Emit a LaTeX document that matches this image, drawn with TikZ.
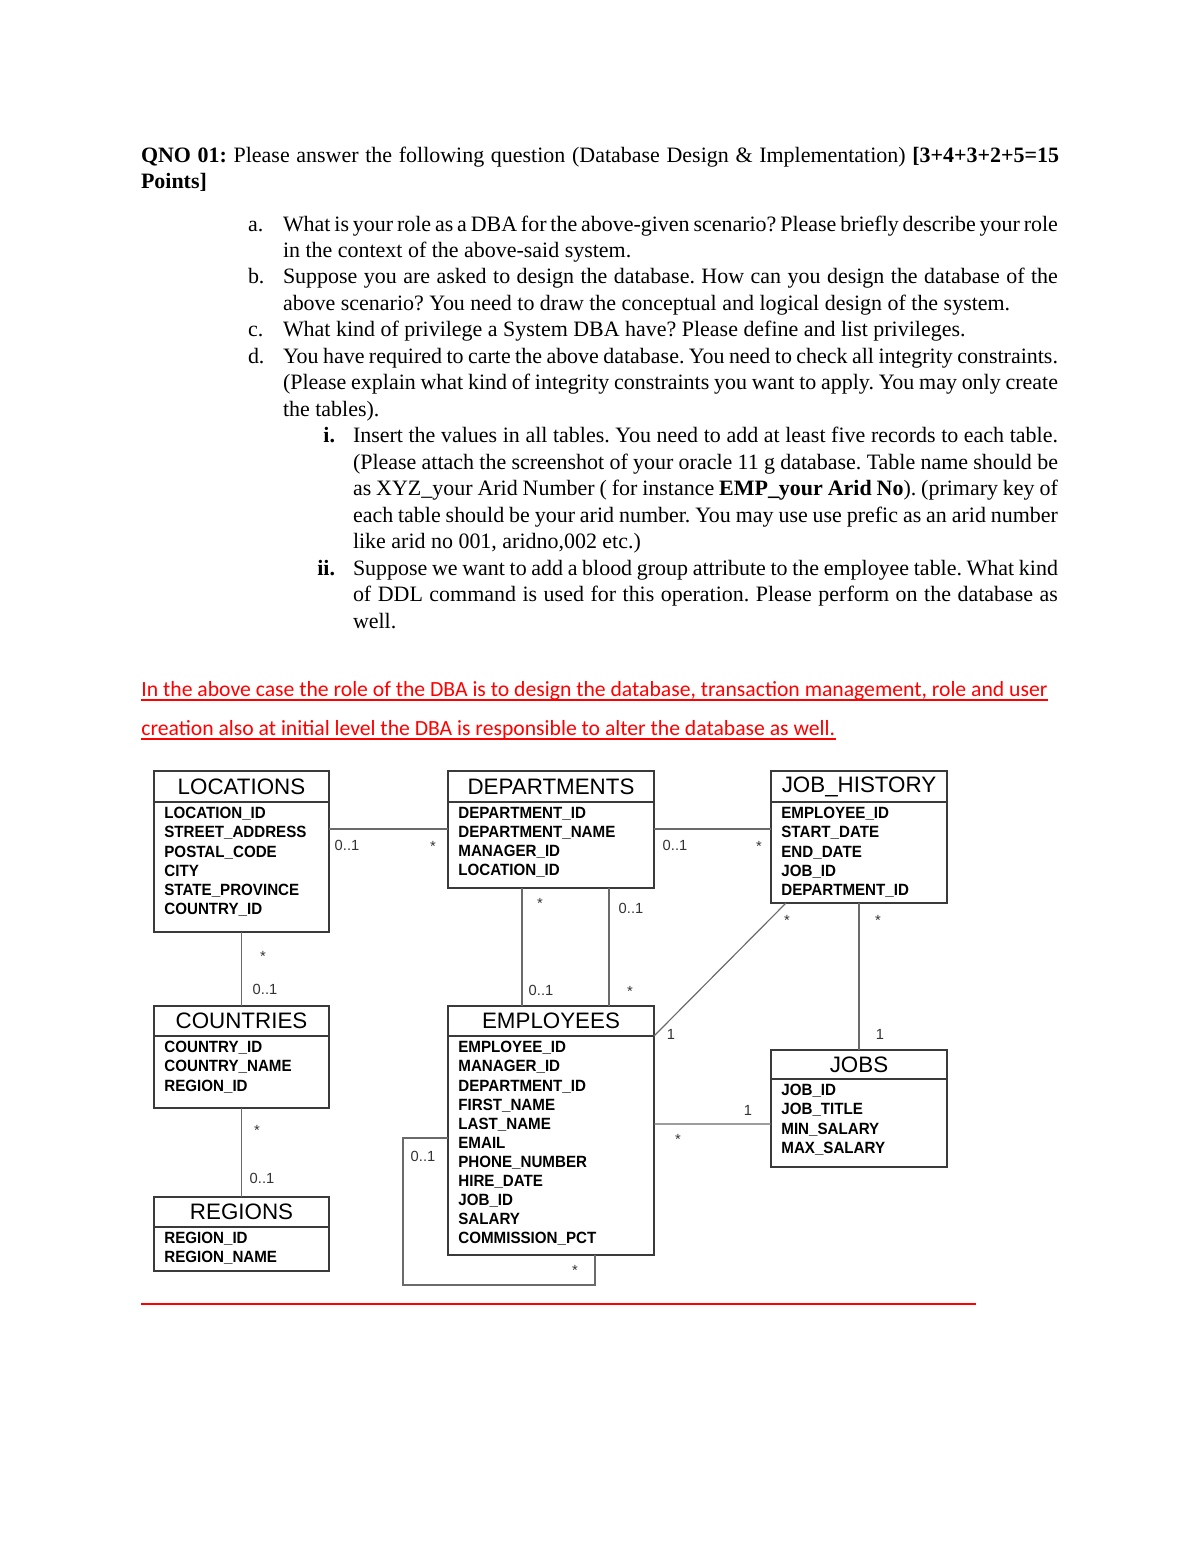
\documentclass[tikz,border=0pt]{standalone}
\usepackage{fontspec}
\setmainfont{Liberation Serif}
\setsansfont{Liberation Sans}
\newfontfamily\calib{Carlito}
\newfontfamily\erfont[FakeStretch=0.93]{Liberation Sans}
\usetikzlibrary{positioning}
\frenchspacing

\definecolor{ansred}{HTML}{FF0000}
\definecolor{erline}{HTML}{3A3A3A}
\definecolor{relgray}{HTML}{6A6A6A}

\def\pxu{0.51pt}     % one pixel of the page
\def\itemw{395.2pt}  % width of an item line
\def\subw{359.5pt}   % width of a sub-item line
\def\headw{468.2pt}  % full text width

\begin{document}
\begin{tikzpicture}[
  x=0.51pt, y=-0.51pt,
  qline/.style={font=\fontsize{11.2}{13.5}\selectfont, inner sep=0pt, outer sep=0pt, text height=9.45pt, text depth=4.05pt, anchor=north west},
  ans/.style={font=\calib\fontsize{11.05}{14}\selectfont, text=ansred, inner sep=0pt, anchor=base west},
  uline/.style={draw=ansred, line width=0.9pt},
  tname/.style={draw=erline, line width=0.7pt, font=\sffamily\fontsize{11.4}{12}\selectfont, inner sep=0pt, outer sep=0pt},
  tbody/.style={draw=erline, line width=0.7pt, inner sep=0pt, outer sep=0pt},
  attr/.style={font={\erfont\fontsize{8.3}{9.75}\selectfont\bfseries}, align=left, inner sep=0pt, anchor=north west},
  mult/.style={font=\sffamily\fontsize{7.5}{9}\selectfont, text=black!80, inner sep=0pt, anchor=base},
  rel/.style={draw=relgray, line width=0.6pt},
]
\useasboundingbox (0,0) rectangle (1200,1553);

%% ============ question ============
\node[qline] (h1) at (141,144) {\makebox[\headw][s]{\textbf{QNO 01:} Please answer the following question (Database Design \& Implementation) \textbf{[3+4+3+2+5=15}}};
\node[qline, below=0pt of h1.south west, anchor=north west] (h2) {\textbf{Points]}};

\node[qline] (a1) at (283,212.5) {\makebox[\itemw][s]{What is your role as a DBA for the above-given scenario? Please briefly describe your role}};
\node[qline, below=0pt of a1.south west, anchor=north west] (a2) {in the context of the above-said system.};
\node[qline, below=0pt of a2.south west, anchor=north west] (b1) {\makebox[\itemw][s]{Suppose you are asked to design the database. How can you design the database of the}};
\node[qline, below=0pt of b1.south west, anchor=north west] (b2) {above scenario? You need to draw the conceptual and logical design of the system.};
\node[qline, below=0pt of b2.south west, anchor=north west] (c1) {What kind of privilege a System DBA have? Please define and list privileges.};
\node[qline, below=0pt of c1.south west, anchor=north west] (d1) {\makebox[\itemw][s]{You have required to carte the above database. You need to check all integrity constraints.}};
\node[qline, below=0pt of d1.south west, anchor=north west] (d2) {\makebox[\itemw][s]{(Please explain what kind of integrity constraints you want to apply. You may only create}};
\node[qline, below=0pt of d2.south west, anchor=north west] (d3) {the tables).};

\node[qline] (la) at ([xshift=-35*\pxu]a1.north west) {a.};
\node[qline] (lb) at ([xshift=-35*\pxu]b1.north west) {b.};
\node[qline] (lc) at ([xshift=-35*\pxu]c1.north west) {c.};
\node[qline] (ld) at ([xshift=-35*\pxu]d1.north west) {d.};

%% sub items
\node[qline] (i1) at ([xshift=70*\pxu]d3.south west) {\makebox[\subw][s]{Insert the values in all tables. You need to add at least five records to each table.}};
\node[qline, below=0pt of i1.south west, anchor=north west] (i2) {\makebox[\subw][s]{(Please attach the screenshot of your oracle 11 g database. Table name should be}};
\node[qline, below=0pt of i2.south west, anchor=north west] (i3) {\makebox[\subw][s]{as XYZ\_your Arid Number ( for instance \textbf{EMP\_your Arid No}). (primary key of}};
\node[qline, below=0pt of i3.south west, anchor=north west] (i4) {\makebox[\subw][s]{each table should be your arid number. You may use use prefic as an arid number}};
\node[qline, below=0pt of i4.south west, anchor=north west] (i5) {like arid no 001, aridno,002 etc.)};
\node[qline, below=0pt of i5.south west, anchor=north west] (j1) {\makebox[\subw][s]{Suppose we want to add a blood group attribute to the employee table. What kind}};
\node[qline, below=0pt of j1.south west, anchor=north west] (j2) {\makebox[\subw][s]{of DDL command is used for this operation. Please perform on the database as}};
\node[qline, below=0pt of j2.south west, anchor=north west] (j3) {well.};

\node[qline, anchor=north east] (li) at ([xshift=-18*\pxu]i1.north west) {\textbf{i.}};
\node[qline, anchor=north east] (lii) at ([xshift=-18*\pxu]j1.north west) {\textbf{ii.}};

%% ============ answer ============
\node[ans] (r1) at (141,696) {In the above case the role of the DBA is to design the database, transaction management, role and user};
\node[ans] (r2) at (141,735) {creation also at initial level the DBA is responsible to alter the database as well.};
\draw[uline] ([yshift=-2.2pt]r1.base west) -- ([yshift=-2.2pt]r1.base east);
\draw[uline] ([yshift=-2.2pt]r2.base west) -- ([yshift=-2.2pt]r2.base east);

%% ============ tables ============
\node[tname, minimum width=175*\pxu, minimum height=31*\pxu] (loc) at (241.5,786.5) {LOCATIONS};
\node[tbody, minimum width=175*\pxu, minimum height=130*\pxu, below=0pt of loc] (locb) {};
\node[attr] (loca) at ([xshift=10*\pxu, yshift=-5*\pxu]locb.north west) {LOCATION\_ID\\STREET\_ADDRESS\\POSTAL\_CODE\\CITY\\STATE\_PROVINCE\\COUNTRY\_ID};

\node[tname, minimum width=206*\pxu, minimum height=31*\pxu] (dept) at (551,786.5) {DEPARTMENTS};
\node[tbody, minimum width=206*\pxu, minimum height=86*\pxu, below=0pt of dept] (deptb) {};
\node[attr] (depta) at ([xshift=10*\pxu, yshift=-5*\pxu]deptb.north west) {DEPARTMENT\_ID\\DEPARTMENT\_NAME\\MANAGER\_ID\\LOCATION\_ID};

\node[tname, minimum width=176*\pxu, minimum height=31*\pxu] (jh) at (859,786.5) {JOB\_HISTORY};
\node[tbody, minimum width=176*\pxu, minimum height=101*\pxu, below=0pt of jh] (jhb) {};
\node[attr] (jha) at ([xshift=10*\pxu, yshift=-5*\pxu]jhb.north west) {EMPLOYEE\_ID\\START\_DATE\\END\_DATE\\JOB\_ID\\DEPARTMENT\_ID};

\node[tname, minimum width=175*\pxu, minimum height=30*\pxu] (cou) at (241.5,1021) {COUNTRIES};
\node[tbody, minimum width=175*\pxu, minimum height=72*\pxu, below=0pt of cou] (coub) {};
\node[attr] (coua) at ([xshift=10*\pxu, yshift=-5*\pxu]coub.north west) {COUNTRY\_ID\\COUNTRY\_NAME\\REGION\_ID};

\node[tname, minimum width=206*\pxu, minimum height=30*\pxu] (emp) at (551,1021) {EMPLOYEES};
\node[tbody, minimum width=206*\pxu, minimum height=219*\pxu, below=0pt of emp] (empb) {};
\node[attr] (empa) at ([xshift=10*\pxu, yshift=-5*\pxu]empb.north west) {EMPLOYEE\_ID\\MANAGER\_ID\\DEPARTMENT\_ID\\FIRST\_NAME\\LAST\_NAME\\EMAIL\\PHONE\_NUMBER\\HIRE\_DATE\\JOB\_ID\\SALARY\\COMMISSION\_PCT};

\node[tname, minimum width=176*\pxu, minimum height=29*\pxu] (jobs) at (859,1064.5) {JOBS};
\node[tbody, minimum width=176*\pxu, minimum height=88*\pxu, below=0pt of jobs] (jobsb) {};
\node[attr] (jobsa) at ([xshift=10*\pxu, yshift=-5*\pxu]jobsb.north west) {JOB\_ID\\JOB\_TITLE\\MIN\_SALARY\\MAX\_SALARY};

\node[tname, minimum width=175*\pxu, minimum height=30*\pxu] (reg) at (241.5,1212) {REGIONS};
\node[tbody, minimum width=175*\pxu, minimum height=44*\pxu, below=0pt of reg] (regb) {};
\node[attr] (rega) at ([xshift=10*\pxu, yshift=-5*\pxu]regb.north west) {REGION\_ID\\REGION\_NAME};

%% ============ relations ============
\draw[rel] ([yshift=-27*\pxu]locb.north east) -- ([yshift=-27*\pxu]deptb.north west);
\draw[rel] ([yshift=-27*\pxu]deptb.north east) -- ([yshift=-27*\pxu]jhb.north west);
\draw[rel] ([xshift=74*\pxu]deptb.south west) -- ([xshift=74*\pxu]emp.north west);
\draw[rel] ([xshift=161*\pxu]deptb.south west) -- ([xshift=161*\pxu]emp.north west);
\draw[rel] (locb.south) -- (cou.north);
\draw[rel] (coub.south) -- (reg.north);
\draw[rel] (jhb.south) -- (jobs.north);
\draw[rel] ([xshift=15*\pxu]jhb.south west) -- (empb.north east);
\draw[rel] ([yshift=-88*\pxu]empb.north east) -- ([yshift=-45*\pxu]jobsb.north west);
\draw[rel] ([yshift=-102*\pxu]empb.north west) -- ++(-45,0) -- ++(0,147) -- ++(192,0) -- ([xshift=147*\pxu]empb.south west);

% multiplicities
\node[mult] (m1) at (347,850) {0..1};
\node[mult] (m2) at (433,851.5) {*};
\node[mult] (m3) at (675,850) {0..1};
\node[mult] (m4) at (759,851.5) {*};
\node[mult] (m5) at (540,908.5) {*};
\node[mult] (m6) at (541,995) {0..1};
\node[mult] (m7) at (631,913) {0..1};
\node[mult] (m8) at (630,996.5) {*};
\node[mult] (m9) at (263,961.5) {*};
\node[mult] (m10) at (265,994) {0..1};
\node[mult] (m11) at (257,1135.5) {*};
\node[mult] (m12) at (262,1183) {0..1};
\node[mult] (m13) at (878,925.5) {*};
\node[mult] (m14) at (880,1039) {1};
\node[mult] (m15) at (787,925.5) {*};
\node[mult] (m16) at (671,1039) {1};
\node[mult] (m17) at (748,1115) {1};
\node[mult] (m18) at (678,1144.5) {*};
\node[mult] (m19) at (423,1161) {0..1};
\node[mult] (m20) at (575,1275.5) {*};

%% ============ closing rule ============
\draw[ansred, line width=1.5pt] (141,1304) -- (976,1304);

\end{tikzpicture}
\end{document}
